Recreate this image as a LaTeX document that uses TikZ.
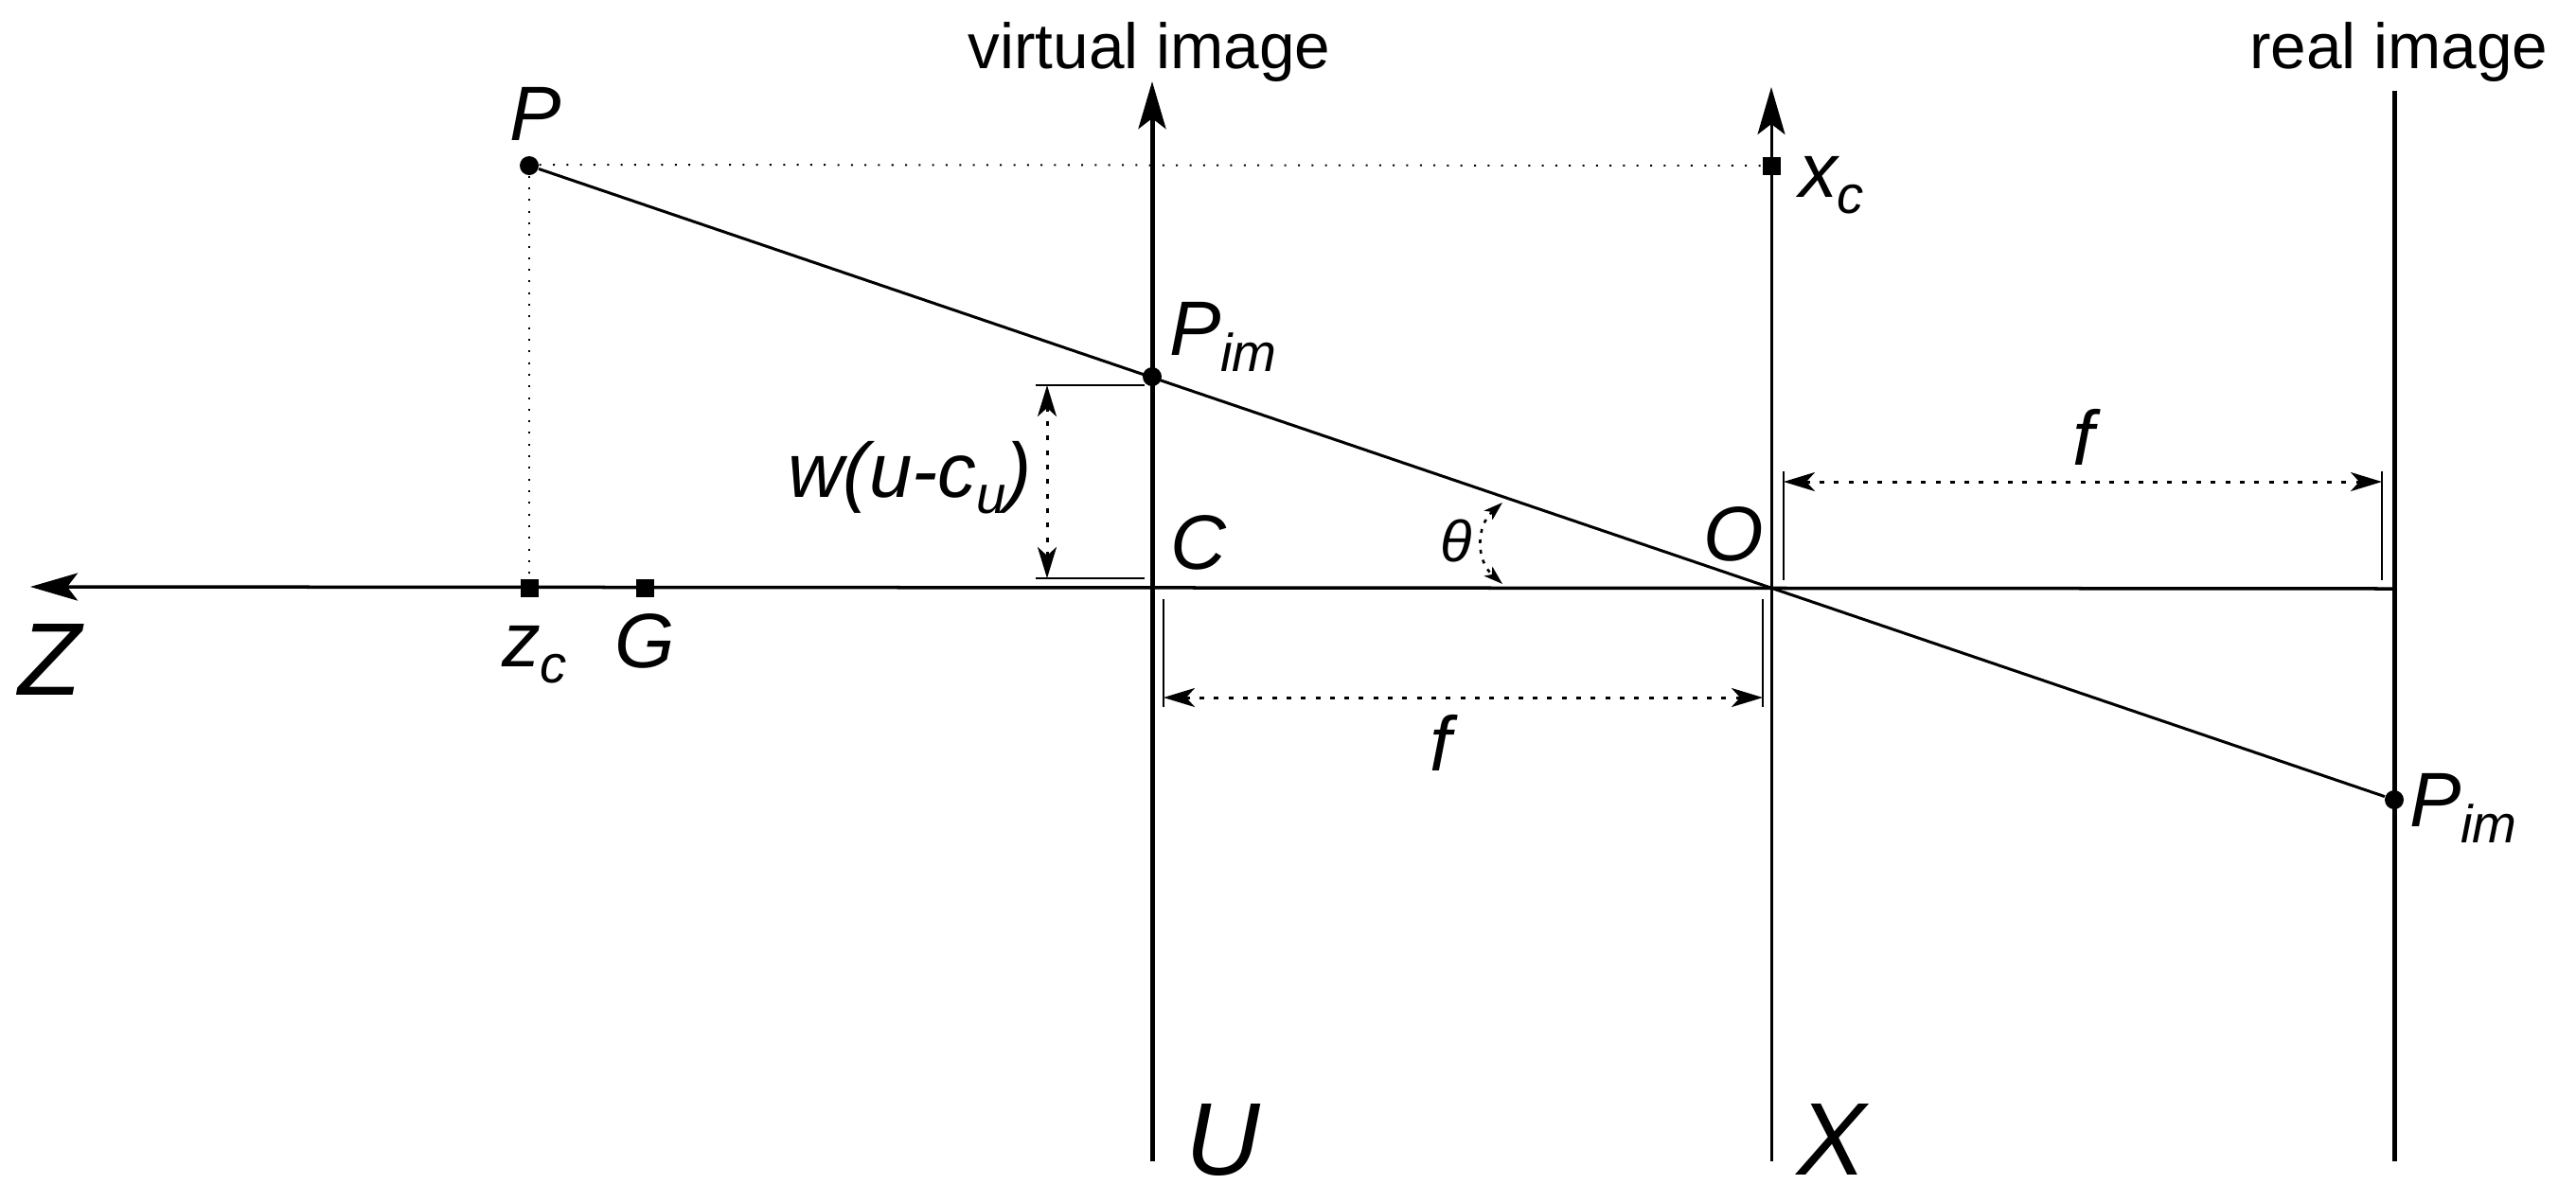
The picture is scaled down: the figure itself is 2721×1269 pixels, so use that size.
\documentclass[tikz,border=0pt]{standalone}
\usepackage{fontspec}
\setmainfont{Liberation Sans}
\usetikzlibrary{arrows.meta}
\newcommand{\fs}[1]{\fontsize{#1}{#1}\selectfont}
\newcommand{\sbx}[1]{\raisebox{-5pt}{\fs{16pt}#1}}
\tikzset{
  x=0.01cm,y=-0.01cm,
  lab/.style={anchor=base west,inner sep=0pt,outer sep=0pt,font=\fs{23.2pt}\itshape},
  biglab/.style={lab,font=\fs{31pt}\itshape},
  smalllab/.style={lab,font=\fs{17.5pt}\itshape},
  title/.style={anchor=base,inner sep=0pt,outer sep=0pt,font=\fs{19.2pt}},
  dot/.style={circle,fill=black,inner sep=0pt,minimum size=0.2cm},
  sq/.style={rectangle,fill=black,inner sep=0pt,minimum size=0.19cm},
  axis/.style={line width=0.05cm},
  thinaxis/.style={line width=0.03cm},
  ray/.style={line width=0.03cm},
  tick/.style={line width=0.026cm},
  guide/.style={line width=0.02cm,dash pattern=on 0.02cm off 0.123cm},
  vguide/.style={line width=0.02cm,dash pattern=on 0.02cm off 0.103cm},
  dim/.style={line width=0.03cm,dash pattern=on 0.05cm off 0.103cm,
    {Stealth[length=0.33cm,width=0.2cm,inset=0.09cm]}-{Stealth[length=0.33cm,width=0.2cm,inset=0.09cm]}},
  angdim/.style={line width=0.026cm,dash pattern=on 0.04cm off 0.07cm,
    {Stealth[length=0.2cm,width=0.13cm,inset=0.05cm]}-{Stealth[length=0.2cm,width=0.13cm,inset=0.05cm]}},
  bighead/.style={-{Stealth[length=0.5cm,width=0.29cm,inset=0.11cm]}},
}
\begin{document}
\begin{tikzpicture}
\path[use as bounding box,fill=white] (0,0) rectangle (2721,1269);
% key points
\coordinate (ztip) at (32,620);
\coordinate (O) at (1871,622);
\coordinate (xtop) at (1871,92);
\coordinate (xbot) at (1871,1227);
\coordinate (utop) at (1217,86);
\coordinate (ubot) at (1217,1227);
\coordinate (rtop) at (2529,96);
\coordinate (rbot) at (2529,1227);
\coordinate (raxis) at (2529,622);
\node[dot] (P) at (559,175) {};
\node[dot] (Pv) at (1217,398) {};
\node[dot] (Pr) at (2529,845) {};
\node[sq] (xc) at (1871,175) {};
\node[sq] (zc) at (559,621) {};
\node[sq] (G) at (681,621) {};
% guides
\draw[guide] (P.east) ++(0,-1) -- (xc.west);
\draw[vguide] (P) -- (zc);
% axes
\draw[axis,bighead] (ubot) -- (utop);
\draw[thinaxis,bighead] (xbot) -- (xtop);
\draw[axis] (rbot) -- (rtop);
\draw[line width=0.035cm,bighead] (raxis) -- (ztip);
% ray
\draw[ray] (P) -- (Pr);
% w dimension
\coordinate (wa) at (1094,407); \coordinate (wb) at (1209,407);
\coordinate (wc) at (1094,611); \coordinate (wd) at (1209,611);
\coordinate (we) at (1106,407); \coordinate (wf) at (1106,611);
\draw[tick] (wa) -- (wb);
\draw[tick] (wc) -- (wd);
\draw[dim] (we) -- (wf);
% upper f
\coordinate (fa) at (1884,498); \coordinate (fb) at (1884,613);
\coordinate (fc) at (2516,498); \coordinate (fd) at (2516,613);
\coordinate (fe) at (1884,509); \coordinate (ff) at (2516,509);
\draw[tick] (fa) -- (fb);
\draw[tick] (fc) -- (fd);
\draw[dim] (fe) -- (ff);
% lower f
\coordinate (ga) at (1229,633); \coordinate (gb) at (1229,747);
\coordinate (gc) at (1862,633); \coordinate (gd) at (1862,747);
\coordinate (ge) at (1229,737); \coordinate (gf) at (1862,737);
\draw[tick] (ga) -- (gb);
\draw[tick] (gc) -- (gd);
\draw[dim] (ge) -- (gf);
% angle
\coordinate (ta) at (1587,531); \coordinate (tb) at (1587,617);
\draw[angdim] (ta) .. controls (1559,556) and (1559,592) .. (tb);
% labels
\node[title] (tv) at (1214,72) {virtual image};
\node[title] (tr) at (2534,72) {real image};
\node[lab] (lP) at (538,148) {P};
\node[lab] (lPv) at (1235,375) {P\sbx{im}};
\node[lab] (lPr) at (2545,873) {P\sbx{im}};
\node[lab] (lw) at (832,525) {w(u-c\sbx{u})};
\node[lab] (lC) at (1236,601) {C};
\node[lab] (lzc) at (530,704) {z\sbx{c}};
\node[lab] (lG) at (649,705) {G};
\node[lab] (lxc) at (1900,208) {x\sbx{c}};
\node[lab] (lO) at (1799,592) {O};
\node[lab] (lf1) at (2189,491) {f};
\node[lab] (lf2) at (1510,814) {f};
\node[smalllab] (lt) at (1521,593) {θ};
\node[biglab] (lZ) at (20,734) {Z};
\node[biglab] (lU) at (1252,1241) {U};
\node[biglab] (lX) at (1898,1241) {X};
\end{tikzpicture}
\end{document}
